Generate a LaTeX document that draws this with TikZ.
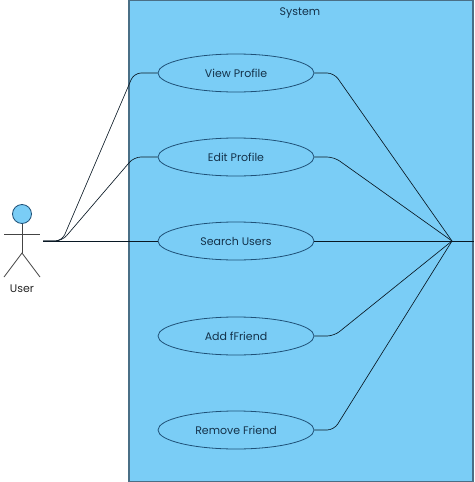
\documentclass[tikz,border=0pt]{standalone}
\usepackage{fontspec}
\setmainfont{Poppins}
\usetikzlibrary{shapes.geometric}
\definecolor{sysfill}{HTML}{7ACDF6}
\definecolor{sysline}{HTML}{4A6F86}
\definecolor{caseline}{HTML}{1F5178}
\definecolor{textcol}{HTML}{14324A}
\definecolor{actline}{HTML}{444444}
\tikzset{
  px/.style={x=1pt,y=-1pt},
  usecase/.style={ellipse,draw=caseline,line width=0.8pt,minimum width=156pt,minimum height=38pt,inner sep=0pt,font=\fontsize{11}{13}\selectfont,text=textcol},
  assoc/.style={draw=black!70!caseline,line width=0.65pt,rounded corners=7pt},
  actorline/.style={draw=actline,line width=0.8pt},
  label/.style={font=\fontsize{11}{13}\selectfont,inner sep=0pt}
}
\begin{document}
\begin{tikzpicture}[px]
\useasboundingbox (0,0) rectangle (474,482);
\fill[white] (0,0) rectangle (474,482);
\node[draw=sysline,fill=sysfill,line width=1.4pt,rectangle,anchor=north west,minimum width=344pt,minimum height=482pt,inner sep=0pt,outer sep=0pt] (system) at (129,0) {};
\node[label,text=textcol] (systitle) at (300,13.5) {System};
\node[usecase] (view) at (236,73) {View Profile};
\node[usecase] (edit) at (236,157) {Edit Profile};
\node[usecase] (search) at (236,241) {Search Users};
\node[usecase] (add) at (236,336) {Add fFriend};
\node[usecase] (remove) at (236,430) {Remove Friend};
% actor
\node[circle,draw=caseline,fill=sysfill,line width=0.8pt,minimum size=19pt,inner sep=0pt] (head) at (22,214) {};
\coordinate (hip) at (22,253);
\coordinate (armL) at (4,234);
\coordinate (armR) at (40,234);
\coordinate (legL) at (4,277);
\coordinate (legR) at (40,277);
\draw[actorline] (head.south) -- (hip);
\draw[actorline] (armL) -- (armR);
\draw[actorline] (legL) -- (hip) -- (legR);
\node[label,text=black!85] (user) at (22,289) {User};
% connectors
\coordinate (hand) at (43,241);
\coordinate (elbow) at (62,241);
\coordinate (hub) at (452,241);
\coordinate (edge) at (474,241);
\draw[assoc] (hand) -- (elbow) -- (134,73) -- (view.west);
\draw[assoc] (hand) -- (elbow) -- (134,157) -- (edit.west);
\draw[assoc] (hand) -- (search.west);
\draw[assoc] (view.east) -- (334,73) -- (hub);
\draw[assoc] (edit.east) -- (334,157) -- (hub);
\draw[assoc] (search.east) -- (hub);
\draw[assoc] (add.east) -- (334,336) -- (hub);
\draw[assoc] (remove.east) -- (334,430) -- (hub);
\draw[assoc] (hub) -- (edge);
\end{tikzpicture}
\end{document}
